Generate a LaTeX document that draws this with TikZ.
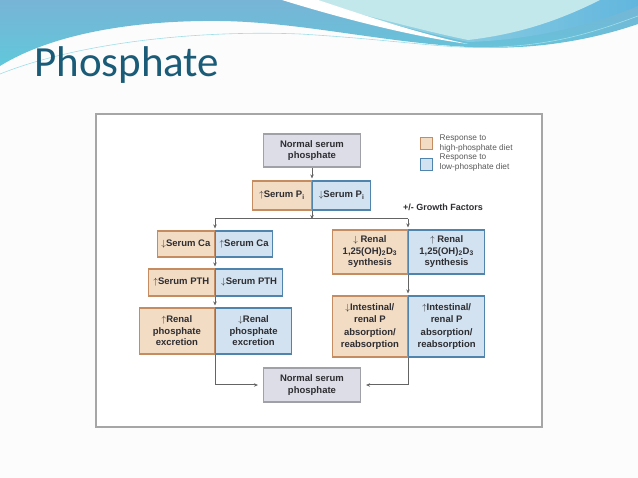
\documentclass[tikz,border=0pt]{standalone}
\usepackage{fontspec}
\setmainfont{Liberation Sans}
\newfontfamily\titlefont{Carlito}
\usetikzlibrary{
    positioning,
    calc,
    arrows.meta
  }
\definecolor{slidebg}{RGB}{252,252,252}
\definecolor{wavedark}{RGB}{120,180,214}
\definecolor{wavecyan}{RGB}{96,200,218}
\definecolor{wavebright}{RGB}{98,182,222}
\definecolor{waveaqua}{RGB}{168,222,228}
\definecolor{titlecolor}{RGB}{26,92,120}
\definecolor{framecolor}{RGB}{166,166,166}
\definecolor{normalfill}{RGB}{221,221,231}
\definecolor{normalline}{RGB}{160,160,168}
\definecolor{highfill}{RGB}{243,220,196}
\definecolor{highline}{RGB}{196,140,96}
\definecolor{lowfill}{RGB}{210,226,240}
\definecolor{lowline}{RGB}{80,132,173}
\definecolor{flowcolor}{RGB}{100,100,100}
\definecolor{textcolor}{RGB}{45,45,50}
\definecolor{legendtextcolor}{RGB}{90,90,90}
\newcommand{\uparr}{\ensuremath{\uparrow}}
\newcommand{\downarr}{\ensuremath{\downarrow}}
\tikzset{
  boxtext/.style={font=\bfseries\fontsize{9.5}{11.5}\selectfont, text=textcolor, align=center, inner sep=1pt},
  normalbox/.style={boxtext, draw=normalline, fill=normalfill, line width=1.2pt, minimum width=97pt},
  highbox/.style={boxtext, draw=highline, fill=highfill, line width=1.2pt, anchor=east},
  lowbox/.style={boxtext, draw=lowline, fill=lowfill, line width=1.2pt, anchor=west},
  legendkey/.style={line width=1pt, minimum width=12pt, minimum height=12pt, inner sep=0pt},
  legendtext/.style={font=\fontsize{8.3}{9.2}\selectfont, text=legendtextcolor, align=left, inner sep=1pt},
  wire/.style={draw=flowcolor, line width=1pt},
  flow/.style={wire, -{Stealth[length=4pt,width=3.5pt]}, shorten >=2pt}
}

\begin{document}
\begin{tikzpicture}[x=1pt, y=-1pt]

\useasboundingbox (0,0) rectangle (638,478);
\path[fill=slidebg] (0,0) rectangle (638,478);

% slide wave
\shade[top color=wavedark, bottom color=wavecyan]
  (0,0) -- (638,0) -- (638,24)
  .. controls (580,44) and (520,50) .. (468,47)
  .. controls (380,42) and (300,22) .. (220,21)
  .. controls (130,20) and (50,35) .. (0,66) -- cycle;
\shade[left color=waveaqua, right color=wavebright]
  (300,0) -- (638,0) -- (638,6)
  .. controls (590,26) and (530,40) .. (468,42)
  .. controls (410,30) and (350,12) .. (300,0) -- cycle;
\path[fill=waveaqua!70!white]
  (300,0) -- (600,0)
  .. controls (560,20) and (520,34) .. (468,40)
  .. controls (410,28) and (350,10) .. (300,0) -- cycle;
\path[fill=white]
  (282,0) .. controls (340,18) and (410,36) .. (468,44)
  .. controls (420,34) and (360,14) .. (318,0) -- cycle;
\path[draw=wavecyan!60!white, line width=0.6pt]
  (0,74) .. controls (80,42) and (200,30) .. (300,34)
  .. controls (400,40) and (450,50) .. (500,47)
  .. controls (560,44) and (600,30) .. (638,16);

\node[font=\titlefont\fontsize{43}{43}\selectfont, text=titlecolor, anchor=base west, inner sep=0pt] (title) at (34,77) {Phosphate};

% figure frame
\path[draw=framecolor, fill=white, line width=1.5pt] (96,114) rectangle (542,427);

% boxes
\node[normalbox, minimum height=33pt] (norm_top) at (312,150.5) {Normal serum\\phosphate};

\node[highbox, minimum width=59pt, minimum height=29pt] (pi_hi) at (312,195.5) {\uparr Serum P\textsubscript{i}};
\node[lowbox, minimum width=58pt, minimum height=29pt] (pi_lo) at (312,195.5) {\downarr Serum P\textsubscript{i}};

\node[highbox, minimum width=57pt, minimum height=26pt] (ca_hi) at (215,244) {\downarr Serum Ca};
\node[lowbox, minimum width=57pt, minimum height=26pt] (ca_lo) at (215,244) {\uparr Serum Ca};

\node[highbox, minimum width=66pt, minimum height=27pt] (pth_hi) at (215,282.5) {\uparr Serum PTH};
\node[lowbox, minimum width=67pt, minimum height=27pt] (pth_lo) at (215,282.5) {\downarr Serum PTH};

\node[highbox, minimum width=75pt, minimum height=46pt] (ren_hi) at (215,331) {\uparr Renal\\phosphate\\excretion};
\node[lowbox, minimum width=76pt, minimum height=46pt] (ren_lo) at (215,331) {\downarr Renal\\phosphate\\excretion};

\node[highbox, minimum width=75pt, minimum height=44pt] (vd_hi) at (408,252) {\downarr\ Renal\\1,25(OH)\textsubscript{2}D\textsubscript{3}\\synthesis};
\node[lowbox, minimum width=76pt, minimum height=44pt] (vd_lo) at (408,252) {\uparr\ Renal\\1,25(OH)\textsubscript{2}D\textsubscript{3}\\synthesis};

\node[highbox, minimum width=75pt, minimum height=61pt, font=\bfseries\fontsize{9.5}{12.2}\selectfont] (abs_hi) at (408,326.5) {\downarr Intestinal/\\renal P\\absorption/\\reabsorption};
\node[lowbox, minimum width=76pt, minimum height=61pt, font=\bfseries\fontsize{9.5}{12.2}\selectfont] (abs_lo) at (408,326.5) {\uparr Intestinal/\\renal P\\absorption/\\reabsorption};

\node[normalbox, minimum height=34pt] (norm_bot) at (312,385) {Normal serum\\phosphate};

% legend
\node[legendkey, draw=highline, fill=highfill] (key_high) at (426,144) {};
\node[legendtext, right=6pt of key_high, yshift=0.5pt] (legend_high) {Response to\\high-phosphate diet};
\node[legendkey, draw=lowline, fill=lowfill] (key_low) at (426,165) {};
\node[legendtext, right=6pt of key_low, yshift=2.5pt] (legend_low) {Response to\\low-phosphate diet};

\node[font=\bfseries\fontsize{9}{9}\selectfont, text=textcolor, inner sep=1pt] (growth) at (443,207) {+/- Growth Factors};

% connectors
\coordinate (fork) at (312,219);
\coordinate (fork_l) at (215,219);
\coordinate (fork_r) at (408,219);

\path[flow] (norm_top) -- (pi_hi.north east);
\path[flow, shorten >=0pt] (pi_hi.south east) -- (fork);
\path[wire] (fork_l) -- (fork_r);
\path[flow] (fork_l) -- (ca_hi.north east);
\path[flow] (fork_r) -- (vd_hi.north east);
\path[flow] (ca_hi.south east) -- (pth_hi.north east);
\path[flow] (pth_hi.south east) -- (ren_hi.north east);
\path[flow] (vd_hi.south east) -- (abs_hi.north east);
\path[flow, shorten >=5pt] (ren_hi.south east) |- (norm_bot.west);
\path[flow, shorten >=5pt] (abs_hi.south east) |- (norm_bot.east);

\end{tikzpicture}
\end{document}
